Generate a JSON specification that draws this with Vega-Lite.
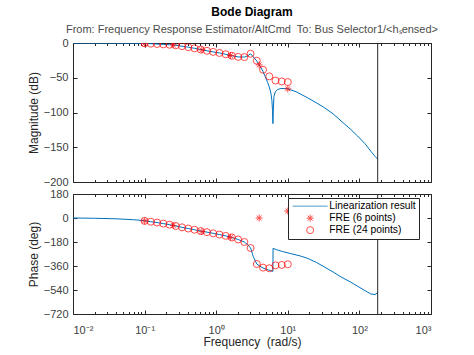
{
  "$schema": "https://vega.github.io/schema/vega-lite/v6.json",
  "autosize": {"type": "pad"},
  "padding": {"left": 26, "top": 5, "right": 5, "bottom": 5},
  "background": "white",
  "bounds": "flush",
  "spacing": 12,
  "datasets": {
    "linMag": [
      {"f":0.01,"v":0},{"f":0.02,"v":-0.02},{"f":0.04,"v":-0.1},{"f":0.07,"v":-0.25},{"f":0.1,"v":-0.5},
      {"f":0.1222,"v":-1.0},{"f":0.1493,"v":-1.5},{"f":0.1825,"v":-2.0},{"f":0.223,"v":-2.5},{"f":0.2725,"v":-3.3},
      {"f":0.333,"v":-4.6},{"f":0.4069,"v":-6.0},{"f":0.4973,"v":-7.6},{"f":0.6077,"v":-9.4},{"f":0.7426,"v":-11.2},
      {"f":0.9075,"v":-12.8},{"f":1.109,"v":-14.3},{"f":1.355,"v":-16.2},{"f":1.656,"v":-18.4},{"f":2.024,"v":-20.0},
      {"f":2.473,"v":-20.3},{"f":2.75,"v":-18.5},{"f":3.022,"v":-15.5},{"f":3.3,"v":-20},{"f":3.693,"v":-26},
      {"f":4.0,"v":-31.5},{"f":4.514,"v":-41},{"f":5.0,"v":-52},{"f":5.24,"v":-57},{"f":5.5,"v":-63},{"f":5.8,"v":-72},
      {"f":6.0,"v":-83},{"f":6.12,"v":-97},{"f":6.2,"v":-116},{"f":6.28,"v":-95},{"f":6.4,"v":-77},{"f":6.7,"v":-70},
      {"f":7.2,"v":-67},{"f":8.0,"v":-65.5},{"f":9.0,"v":-65.5},{"f":10,"v":-66},{"f":13,"v":-70},{"f":19,"v":-79},
      {"f":25,"v":-86},{"f":32.4,"v":-93},{"f":43,"v":-102},{"f":55.3,"v":-112},{"f":75,"v":-124},{"f":94.6,"v":-134},
      {"f":120,"v":-145},{"f":145,"v":-156},{"f":165,"v":-163},{"f":180,"v":-167}
    ],
    "linPhase": [
      {"f":0.01,"v":0},{"f":0.02,"v":-2},{"f":0.04,"v":-6},{"f":0.07,"v":-13},{"f":0.1,"v":-20},
      {"f":0.1222,"v":-28},{"f":0.1493,"v":-34},{"f":0.1825,"v":-42},{"f":0.223,"v":-50},{"f":0.2725,"v":-60},
      {"f":0.333,"v":-70},{"f":0.4069,"v":-79},{"f":0.4973,"v":-88},{"f":0.6077,"v":-98},{"f":0.7426,"v":-106},
      {"f":0.9075,"v":-115},{"f":1.109,"v":-124},{"f":1.355,"v":-134},{"f":1.656,"v":-146},{"f":2.024,"v":-161},
      {"f":2.473,"v":-180},{"f":2.75,"v":-200},{"f":3.022,"v":-225},{"f":3.3,"v":-290},{"f":3.693,"v":-345},
      {"f":4.1,"v":-362},{"f":4.514,"v":-375},{"f":5.0,"v":-385},{"f":5.5,"v":-392},{"f":6.0,"v":-398},{"f":6.2,"v":-400},
      {"f":6.22,"v":-228},{"f":7,"v":-238},{"f":8.5,"v":-252},{"f":11,"v":-267},{"f":15,"v":-285},{"f":19,"v":-303},
      {"f":25,"v":-333},{"f":32.4,"v":-367},{"f":43,"v":-405},{"f":55.3,"v":-442},{"f":75,"v":-480},{"f":94.6,"v":-512},
      {"f":120,"v":-545},{"f":145,"v":-570},{"f":165,"v":-574},{"f":180,"v":-560}
    ],
    "fre": [
      {"series":"FRE (6 points)","f":0.1,"mag":-0.5,"phase":-22},
      {"series":"FRE (6 points)","f":0.2512,"mag":-2.6,"phase":-56},
      {"series":"FRE (6 points)","f":0.631,"mag":-10,"phase":-102},
      {"series":"FRE (6 points)","f":1.585,"mag":-18,"phase":-145},
      {"series":"FRE (6 points)","f":3.981,"mag":-31.5,"phase":0},
      {"series":"FRE (6 points)","f":10,"mag":-66,"phase":52},
      {"series":"FRE (24 points)","f":0.1,"mag":-0.5,"phase":-22},
      {"series":"FRE (24 points)","f":0.1222,"mag":-1.0,"phase":-28},
      {"series":"FRE (24 points)","f":0.1493,"mag":-1.5,"phase":-34},
      {"series":"FRE (24 points)","f":0.1825,"mag":-2.0,"phase":-42},
      {"series":"FRE (24 points)","f":0.223,"mag":-2.5,"phase":-50},
      {"series":"FRE (24 points)","f":0.2725,"mag":-3.3,"phase":-60},
      {"series":"FRE (24 points)","f":0.333,"mag":-4.6,"phase":-70},
      {"series":"FRE (24 points)","f":0.4069,"mag":-6.0,"phase":-79},
      {"series":"FRE (24 points)","f":0.4973,"mag":-7.6,"phase":-88},
      {"series":"FRE (24 points)","f":0.6077,"mag":-9.4,"phase":-98},
      {"series":"FRE (24 points)","f":0.7426,"mag":-11.2,"phase":-106},
      {"series":"FRE (24 points)","f":0.9075,"mag":-12.8,"phase":-115},
      {"series":"FRE (24 points)","f":1.109,"mag":-14.3,"phase":-124},
      {"series":"FRE (24 points)","f":1.355,"mag":-16.2,"phase":-134},
      {"series":"FRE (24 points)","f":1.656,"mag":-18.4,"phase":-146},
      {"series":"FRE (24 points)","f":2.024,"mag":-20.0,"phase":-161},
      {"series":"FRE (24 points)","f":2.473,"mag":-20.3,"phase":-180},
      {"series":"FRE (24 points)","f":3.022,"mag":-15.5,"phase":-225},
      {"series":"FRE (24 points)","f":3.693,"mag":-25.5,"phase":-345},
      {"series":"FRE (24 points)","f":4.514,"mag":-38.5,"phase":-372},
      {"series":"FRE (24 points)","f":5.516,"mag":-48,"phase":-377},
      {"series":"FRE (24 points)","f":6.741,"mag":-54,"phase":-355},
      {"series":"FRE (24 points)","f":8.237,"mag":-55.3,"phase":-352},
      {"series":"FRE (24 points)","f":10,"mag":-56.2,"phase":-347}
    ],
    "nyquist": [{"f": 180}]
  },
  "resolve": {
    "scale": {"shape": "independent", "stroke": "independent"},
    "legend": {"shape": "independent", "stroke": "independent"}
  },
  "vconcat": [
    {
      "width": 358,
      "height": 139,
      "title": {
        "text": "Bode Diagram",
        "subtitle": "From: Frequency Response Estimator/AltCmd\u00a0 To: Bus Selector1/<hₛensed>",
        "anchor": "middle",
        "frame": "group",
        "font": "Liberation Sans",
        "fontSize": 12,
        "fontWeight": "bold",
        "color": "black",
        "subtitleFont": "Liberation Sans",
        "subtitleFontSize": 11,
        "subtitleColor": "#4d4d4d",
        "subtitlePadding": 5,
        "offset": 1
      },
      "resolve": {"axis": {"x": "independent", "y": "independent"}},
      "layer": [
        {
          "data": {"name": "linMag"},
          "mark": {"type": "line", "color": "#0072BD", "strokeWidth": 1, "clip": true},
          "encoding": {
            "x": {"field": "f", "type": "quantitative",
              "scale": {"type": "log", "domain": [0.01, 1000]},
              "axis": {"labels": false, "title": null,
                "values": [0.01,0.02,0.03,0.04,0.05,0.06,0.07,0.08,0.09,0.1,0.2,0.3,0.4,0.5,0.6,0.7,0.8,0.9,1,2,3,4,5,6,7,8,9,10,20,30,40,50,60,70,80,90,100,200,300,400,500,600,700,800,900,1000],
                "tickSize": {"condition": {"test": "abs(log(datum.value)/LN10 - round(log(datum.value)/LN10)) < 0.001", "value": -4}, "value": -2.5}}},
            "y": {"field": "v", "type": "quantitative",
              "scale": {"domain": [-200, 0], "nice": false, "zero": false},
              "axis": {"title": "Magnitude (dB)", "values": [0, -50, -100, -150, -200]}}
          }
        },
        {
          "data": {"name": "fre"},
          "mark": {"type": "point", "filled": false, "size": 49, "strokeWidth": 1, "clip": true},
          "encoding": {
            "x": {"field": "f", "type": "quantitative",
              "axis": {"orient": "top", "labels": false, "title": null,
                "values": [0.01,0.02,0.03,0.04,0.05,0.06,0.07,0.08,0.09,0.1,0.2,0.3,0.4,0.5,0.6,0.7,0.8,0.9,1,2,3,4,5,6,7,8,9,10,20,30,40,50,60,70,80,90,100,200,300,400,500,600,700,800,900,1000],
                "tickSize": {"condition": {"test": "abs(log(datum.value)/LN10 - round(log(datum.value)/LN10)) < 0.001", "value": -4}, "value": -2.5}}},
            "y": {"field": "mag", "type": "quantitative",
              "axis": {"orient": "right", "labels": false, "title": null, "values": [0, -50, -100, -150, -200]}},
            "shape": {"field": "series", "type": "nominal",
              "scale": {"domain": ["Linearization result", "FRE (6 points)", "FRE (24 points)"],
                "range": ["M-5,0H5", "M-1,0H1M0,-1V1M-0.7,-0.7L0.7,0.7M-0.7,0.7L0.7,-0.7", "circle"]},
              "legend": null},
            "stroke": {"field": "series", "type": "nominal",
              "scale": {"domain": ["Linearization result", "FRE (6 points)", "FRE (24 points)"],
                "range": ["#0072BD", "#FF0000", "#FF0000"]},
              "legend": null}
          }
        },
        {
          "data": {"name": "nyquist"},
          "mark": {"type": "rule", "color": "#262626", "strokeWidth": 1},
          "encoding": {"x": {"field": "f", "type": "quantitative", "axis": null}}
        }
      ]
    },
    {
      "width": 358,
      "height": 120,
      "resolve": {"axis": {"x": "independent", "y": "independent"}},
      "layer": [
        {
          "data": {"name": "linPhase"},
          "mark": {"type": "line", "color": "#0072BD", "strokeWidth": 1, "clip": true},
          "encoding": {
            "x": {"field": "f", "type": "quantitative",
              "scale": {"type": "log", "domain": [0.01, 1000]},
              "axis": {"title": "Frequency\u00a0 (rad/s)",
                "values": [0.01,0.02,0.03,0.04,0.05,0.06,0.07,0.08,0.09,0.1,0.2,0.3,0.4,0.5,0.6,0.7,0.8,0.9,1,2,3,4,5,6,7,8,9,10,20,30,40,50,60,70,80,90,100,200,300,400,500,600,700,800,900,1000],
                "labelExpr": "abs(log(datum.value)/LN10 - round(log(datum.value)/LN10)) < 0.001 ? ['10⁻²','10⁻¹','10⁰','10¹','10²','10³'][round(log(datum.value)/LN10)+2] : ''",
                "labelOverlap": false,
                "labelPadding": 14,
                "titlePadding": 0,
                "tickSize": {"condition": {"test": "abs(log(datum.value)/LN10 - round(log(datum.value)/LN10)) < 0.001", "value": -4}, "value": -2.5}}},
            "y": {"field": "v", "type": "quantitative",
              "scale": {"domain": [-720, 180], "nice": false, "zero": false},
              "axis": {"title": "Phase (deg)", "values": [180, 0, -180, -360, -540, -720]}}
          }
        },
        {
          "data": {"name": "fre"},
          "mark": {"type": "point", "filled": false, "size": 49, "strokeWidth": 1, "clip": true},
          "encoding": {
            "x": {"field": "f", "type": "quantitative",
              "axis": {"orient": "top", "labels": false, "title": null,
                "values": [0.01,0.02,0.03,0.04,0.05,0.06,0.07,0.08,0.09,0.1,0.2,0.3,0.4,0.5,0.6,0.7,0.8,0.9,1,2,3,4,5,6,7,8,9,10,20,30,40,50,60,70,80,90,100,200,300,400,500,600,700,800,900,1000],
                "tickSize": {"condition": {"test": "abs(log(datum.value)/LN10 - round(log(datum.value)/LN10)) < 0.001", "value": -4}, "value": -2.5}}},
            "y": {"field": "phase", "type": "quantitative",
              "axis": {"orient": "right", "labels": false, "title": null, "values": [180, 0, -180, -360, -540, -720]}},
            "shape": {"field": "series", "type": "nominal",
              "scale": {"domain": ["Linearization result", "FRE (6 points)", "FRE (24 points)"],
                "range": ["M-5,0H5", "M-1,0H1M0,-1V1M-0.7,-0.7L0.7,0.7M-0.7,0.7L0.7,-0.7", "circle"]},
              "legend": {"title": null, "orient": "none", "legendX": 215, "legendY": 4,
                "symbolSize": 49, "symbolStrokeWidth": 1, "symbolOffset": 14, "labelOffset": 14,
                "labelFont": "Liberation Sans", "labelFontSize": 10.3, "labelColor": "black",
                "padding": 3, "rowPadding": 0, "fillColor": "white", "strokeColor": "#262626"}},
            "stroke": {"field": "series", "type": "nominal",
              "scale": {"domain": ["Linearization result", "FRE (6 points)", "FRE (24 points)"],
                "range": ["#0072BD", "#FF0000", "#FF0000"]},
              "legend": {"title": null, "orient": "none", "legendX": 215, "legendY": 4,
                "symbolSize": 49, "symbolStrokeWidth": 1, "symbolOffset": 14, "labelOffset": 14,
                "labelFont": "Liberation Sans", "labelFontSize": 10.3, "labelColor": "black",
                "padding": 3, "rowPadding": 0, "fillColor": "white", "strokeColor": "#262626"}}
          }
        },
        {
          "data": {"name": "nyquist"},
          "mark": {"type": "rule", "color": "#262626", "strokeWidth": 1},
          "encoding": {"x": {"field": "f", "type": "quantitative", "axis": null}}
        }
      ]
    }
  ],
  "config": {
    "view": {"stroke": "#262626", "strokeWidth": 1},
    "axis": {
      "domain": false,
      "grid": false,
      "tickColor": "#262626",
      "tickWidth": 1,
      "labelFont": "Liberation Sans",
      "labelFontSize": 11,
      "labelColor": "#404040",
      "titleFont": "Liberation Sans",
      "titleFontSize": 12,
      "titleFontWeight": "normal",
      "titleColor": "#262626"
    },
    "axisY": {"tickSize": -4, "titlePadding": 3, "labelPadding": 9},
    "axisX": {"titlePadding": 3}
  }
}
